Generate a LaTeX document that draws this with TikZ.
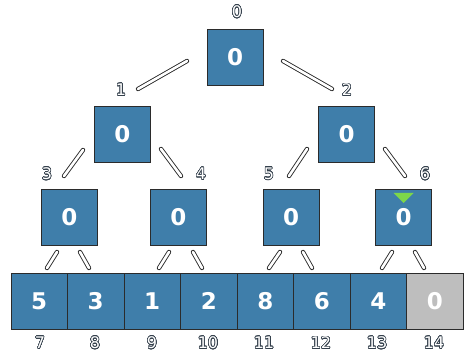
\documentclass[tikz,border=0pt]{standalone}
\usepackage{fontspec}
\setmainfont{DejaVu Sans}
\usepackage{contour}
\usetikzlibrary{calc}
\definecolor{boxblue}{HTML}{3F7EAA}
\definecolor{boxgray}{HTML}{BEBEBE}
\definecolor{edgedark}{HTML}{2B2B2B}
\definecolor{lbldark}{HTML}{34404C}
\definecolor{tri}{HTML}{7DD64A}
\contourlength{0.6pt}
\contournumber{24}
\newcommand{\idx}[1]{\contour{lbldark}{\textcolor{white}{#1}}}
\begin{document}
\begin{tikzpicture}[x=1pt,y=-1pt,
  cell/.style={draw=edgedark,line width=0.9pt,fill=boxblue,minimum width=56pt,minimum height=56pt,inner sep=0pt,text=white,font=\fontsize{23}{23}\selectfont\bfseries},
  bcell/.style={cell,minimum width=56.5pt},
  idxlbl/.style={inner sep=0pt,font=\fontsize{16}{16}\selectfont},
  edge/.style={draw=edgedark,line width=0.9pt,double=white,double distance=2.6pt,line cap=round}]
\useasboundingbox (0,0) rectangle (474,358);
% tree nodes
\node[cell] (r) at (235,57) {0};
\node[cell] (n1) at (122.5,134.5) {0};
\node[cell] (n2) at (346.5,134.5) {0};
\node[cell] (n3) at (69.5,217.5) {0};
\node[cell] (n4) at (178.5,217.5) {0};
\node[cell] (n5) at (291,217.5) {0};
\node[cell] (n6) at (403.5,217.5) {0};
% array cells
\node[bcell] (c7) at (39.25,301) {5};
\node[bcell] (c8) at (95.75,301) {3};
\node[bcell] (c9) at (152.25,301) {1};
\node[bcell] (c10) at (208.75,301) {2};
\node[bcell] (c11) at (265.25,301) {8};
\node[bcell] (c12) at (321.75,301) {6};
\node[bcell] (c13) at (378.25,301) {4};
\node[bcell,fill=boxgray] (c14) at (434.75,301) {0};
% green marker
\fill[tri] ($(n6)+(-10,-24.5)$) -- ($(n6)+(10,-24.5)$) -- ($(n6)+(0,-14.5)$) -- cycle;
% edges
\draw[edge] ($(r)+(-48,4)$) -- ($(n1)+(15.5,-45.5)$);
\draw[edge] ($(r)+(48,4)$) -- ($(n2)+(-14.5,-45.5)$);
\draw[edge] ($(n1)+(-39.5,15.5)$) -- ($(n3)+(-5.5,-41.5)$);
\draw[edge] ($(n1)+(38.5,14.5)$) -- ($(n4)+(2.5,-41.5)$);
\draw[edge] ($(n2)+(-39.5,14.5)$) -- ($(n5)+(-2,-41.5)$);
\draw[edge] ($(n2)+(38.5,14.5)$) -- ($(n6)+(1.5,-41.5)$);
\draw[edge] ($(n3)+(-12.5,34.5)$) -- ($(c7)+(7.75,-33)$);
\draw[edge] ($(n3)+(10.5,34.5)$) -- ($(c8)+(-6.75,-33)$);
\draw[edge] ($(n4)+(-9.5,34.5)$) -- ($(c9)+(6.75,-33)$);
\draw[edge] ($(n4)+(14.5,34.5)$) -- ($(c10)+(-6.75,-33)$);
\draw[edge] ($(n5)+(-11,34.5)$) -- ($(c11)+(3.75,-33)$);
\draw[edge] ($(n5)+(12,34.5)$) -- ($(c12)+(-9.75,-33)$);
\draw[edge] ($(n6)+(-11.5,34.5)$) -- ($(c13)+(3.75,-33)$);
\draw[edge] ($(n6)+(11.5,34.5)$) -- ($(c14)+(-10.75,-33)$);
% index labels
\node[idxlbl] (l0) at (237,12) {\idx{0}};
\node[idxlbl] (l1) at (121,90) {\idx{1}};
\node[idxlbl] (l2) at (347,90) {\idx{2}};
\node[idxlbl] (l3) at (47,174) {\idx{3}};
\node[idxlbl] (l4) at (201,174) {\idx{4}};
\node[idxlbl] (l5) at (269,174) {\idx{5}};
\node[idxlbl] (l6) at (425,174) {\idx{6}};
\node[idxlbl] (l7) at (40,343) {\idx{7}};
\node[idxlbl] (l8) at (95,343) {\idx{8}};
\node[idxlbl] (l9) at (152,343) {\idx{9}};
\node[idxlbl] (l10) at (208,343) {\idx{10}};
\node[idxlbl] (l11) at (264,343) {\idx{11}};
\node[idxlbl] (l12) at (321,343) {\idx{12}};
\node[idxlbl] (l13) at (377,343) {\idx{13}};
\node[idxlbl] (l14) at (434,343) {\idx{14}};
\end{tikzpicture}
\end{document}
